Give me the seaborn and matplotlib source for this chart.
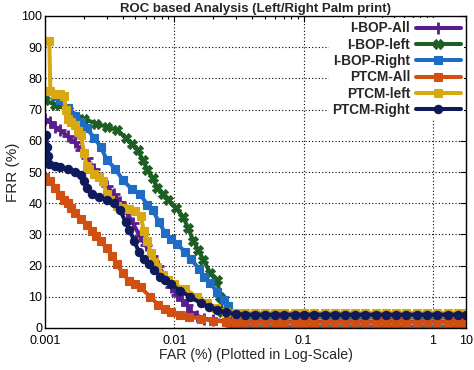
import matplotlib
matplotlib.use("Agg")
import matplotlib.pyplot as plt
import seaborn as sns
import pandas as pd
from matplotlib.ticker import LogLocator, NullFormatter

sns.set_style("white")
plt.rcParams['font.family'] = ['Liberation Sans', 'DejaVu Sans']

TITLE = "ROC based Analysis (Left/Right Palm print)"
XLABEL = "FAR (%) (Plotted in Log-Scale)"
YLABEL = "FRR (%)"
XTICKS = [0.001, 0.01, 0.1, 1, 1.8]
XTICK_LABELS = ["0.001", "0.01", "0.1", "1", "10"]
YTICKS = [0, 10, 20, 30, 40, 50, 60, 70, 80, 90, 100]

TAIL_FAR = [0.035, 0.042, 0.05, 0.06, 0.07, 0.085, 0.1, 0.12, 0.145, 0.175, 0.21,
            0.25, 0.3, 0.36, 0.43, 0.52, 0.62, 0.75, 0.9, 1.08, 1.3, 1.55, 1.8]

ibop_all_far = [0.001, 0.0011, 0.0012, 0.0013, 0.0015, 0.0017, 0.0019, 0.0021, 0.0024,
                0.0027, 0.003, 0.0034, 0.0038, 0.0043, 0.0048, 0.0054, 0.006, 0.0067,
                0.0075, 0.0085, 0.0095, 0.0105, 0.0115, 0.0125, 0.0135, 0.015, 0.017,
                0.02, 0.025, 0.03]
ibop_all_frr = [67, 66, 64.5, 63.5, 61.5, 59.5, 57, 54.5, 51, 48, 45.5, 43, 40.5, 37,
                33.5, 29.5, 26.5, 23, 20, 16.5, 13, 10.5, 9, 7.5, 5, 4, 3, 2.5, 2.2, 2.0]
ibop_all_tail = [2.0, 2.0, 2.0, 2.0, 2.0, 2.0, 2.0, 2.0, 2.0, 2.0, 2.0, 2.0,
                 2.0, 2.0, 2.0, 2.0, 2.0, 2.0, 2.0, 2.0, 2.0, 2.0, 2.0]

ibop_left_far = [0.001, 0.0012, 0.0015, 0.002, 0.0025, 0.003, 0.0036, 0.0042, 0.0047,
                 0.0052, 0.0057, 0.0062, 0.0068, 0.0074, 0.0082, 0.009, 0.0103, 0.0117,
                 0.0128, 0.014, 0.0153, 0.0168, 0.019, 0.0215, 0.0225, 0.0235, 0.027, 0.03]
ibop_left_frr = [73, 71.5, 70, 67, 65.5, 64.5, 63.5, 61, 59, 57, 54, 50.6, 48, 45, 43,
                 41, 38.5, 35.6, 32, 28, 25, 21.8, 17.6, 15.4, 10, 5, 4.2, 4.0]
ibop_left_tail = [4.0, 4.0, 4.0, 4.0, 4.0, 4.0, 4.0, 4.0, 4.0, 4.0, 4.0, 4.0,
                  4.0, 4.0, 4.0, 4.0, 4.0, 4.0, 4.0, 4.0, 4.0, 4.0, 4.0]

ibop_right_far = [0.001, 0.0012, 0.0013, 0.0015, 0.0017, 0.0019, 0.0021, 0.0024, 0.0027,
                  0.003, 0.0035, 0.004, 0.0047, 0.0054, 0.0062, 0.0068, 0.0076, 0.0085,
                  0.0095, 0.0105, 0.012, 0.0135, 0.0155, 0.017, 0.019, 0.0215, 0.024,
                  0.026, 0.027, 0.028, 0.031]
ibop_right_frr = [76, 74.5, 73, 70.5, 68, 66, 64, 61, 58, 54, 51, 47.4, 44.5, 43, 39.5,
                  37.8, 34, 30.4, 28.5, 27, 24.5, 22, 19, 16.5, 14.4, 11.5, 9, 7, 2,
                  0.5, 0.4]
ibop_right_tail = [0.4, 0.4, 0.4, 0.4, 0.4, 0.4, 0.4, 0.4, 0.4, 0.4, 0.4, 0.4,
                   0.4, 0.4, 0.4, 0.4, 0.4, 0.4, 0.4, 0.4, 0.4, 0.4, 0.4]

ptcm_all_far = [0.001, 0.0011, 0.0012, 0.0013, 0.0014, 0.0015, 0.0016, 0.0017, 0.0019,
                0.0021, 0.0023, 0.0025, 0.0027, 0.003, 0.0033, 0.0036, 0.004, 0.0045,
                0.005, 0.0055, 0.0065, 0.0075, 0.0085, 0.0095, 0.011, 0.013, 0.016,
                0.02, 0.025, 0.03]
ptcm_all_frr = [48.5, 47, 45, 42.5, 41, 40, 38.5, 37, 35, 33, 31, 29.5, 28, 25.5, 23,
                20.5, 17.5, 15, 14, 13, 10, 7.5, 6, 5, 4.2, 3.6, 3.0, 2.4, 2.0, 1.8]
ptcm_all_tail = [1.8, 1.8, 1.8, 1.8, 1.8, 1.8, 1.8, 1.8, 1.8, 1.8, 1.8, 1.8,
                 1.8, 1.8, 1.8, 1.8, 1.8, 1.8, 1.8, 1.8, 1.8, 1.8, 1.8]

ptcm_left_far = [0.001, 0.00104, 0.00108, 0.0011, 0.0012, 0.0013, 0.0014, 0.00145,
                 0.0015, 0.0016, 0.0017, 0.0018, 0.0019, 0.002, 0.0021, 0.0022, 0.0024,
                 0.0026, 0.0028, 0.003, 0.0032, 0.0036, 0.004, 0.0045, 0.005, 0.0055,
                 0.0058, 0.0062, 0.0066, 0.007, 0.0074, 0.0082, 0.009, 0.01, 0.012,
                 0.015, 0.018, 0.021, 0.025, 0.03]
ptcm_left_frr = [92, 92, 92, 76, 75, 75, 74.5, 70, 67, 66, 65, 63, 62, 56, 52, 51, 49.5,
                 48.5, 47, 43, 41, 39, 38.5, 38, 37.5, 36, 31, 28, 24, 21, 19.5, 17,
                 15.5, 14, 12.5, 10, 8, 6.5, 5, 4.8]
ptcm_left_tail = [4.8, 4.8, 4.8, 4.8, 4.8, 4.8, 4.8, 4.8, 4.8, 4.8, 4.8, 4.8,
                  4.8, 4.8, 4.8, 4.8, 4.8, 4.8, 4.8, 4.8, 4.8, 4.8, 4.8]

ptcm_right_far = [0.001, 0.00102, 0.00104, 0.00106, 0.00108, 0.0012, 0.0013, 0.0015,
                  0.0017, 0.0019, 0.002, 0.0021, 0.0023, 0.0026, 0.003, 0.0034, 0.0038,
                  0.0042, 0.0045, 0.0049, 0.0053, 0.0058, 0.0064, 0.007, 0.0078, 0.0085,
                  0.0095, 0.011, 0.0133, 0.016, 0.0185, 0.0215, 0.025, 0.03]
ptcm_right_frr = [62, 62, 58, 55, 52.5, 52, 51.5, 51, 50, 49, 47, 45, 43, 42, 41, 40,
                  37.8, 34, 31.4, 28, 24.5, 22, 20.5, 18.5, 16.5, 15.5, 14, 12, 10,
                  8, 6.8, 5.8, 5, 4.5]
ptcm_right_tail = [4.3, 4.3, 4.3, 4.3, 4.3, 4.3, 4.3, 4.3, 4.3, 4.3, 4.3, 4.3,
                   4.3, 4.3, 4.3, 4.3, 4.3, 4.3, 4.3, 4.3, 4.3, 4.3, 4.3]

NAMES = ["I-BOP-All", "I-BOP-left", "I-BOP-Right", "PTCM-All", "PTCM-left", "PTCM-Right"]
FARS = [ibop_all_far, ibop_left_far, ibop_right_far, ptcm_all_far, ptcm_left_far, ptcm_right_far]
FRRS = [ibop_all_frr, ibop_left_frr, ibop_right_frr, ptcm_all_frr, ptcm_left_frr, ptcm_right_frr]
TAILS = [ibop_all_tail, ibop_left_tail, ibop_right_tail, ptcm_all_tail, ptcm_left_tail, ptcm_right_tail]

COLORS = ["#5a1e8c", "#1d5e22", "#1f6cc4", "#d24f12", "#d8a812", "#0e1a5c"]
MARKERS = ["+", "X", "s", "s", "s", "o"]
MSIZES = [8, 6.5, 5.5, 5.5, 5.5, 6]

fig = plt.figure(figsize=(4.74, 3.70), dpi=100)
ax = fig.add_axes([45 / 474, 1 - 328 / 370, (466 - 45) / 474, (328 - 16) / 370])

for name, far, frr, tail, c, m, ms in zip(NAMES, FARS, FRRS, TAILS, COLORS, MARKERS, MSIZES):
    df = pd.DataFrame({"FAR": far + TAIL_FAR, "FRR": frr + tail})
    sns.lineplot(data=df, x="FAR", y="FRR", ax=ax, color=c, marker=m, markersize=ms,
                 markeredgecolor=c, markeredgewidth=2.0 if m == "+" else 0.8,
                 linewidth=2.9, label=name, sort=False, estimator=None)

ax.set_xscale("log")
ax.set_xlim(0.001, 1.8)
ax.set_ylim(0, 100)
ax.set_xticks(XTICKS)
ax.set_xticklabels(XTICK_LABELS)
ax.xaxis.set_minor_locator(LogLocator(base=10, subs=[2, 3, 4, 5, 6, 7, 8, 9]))
ax.xaxis.set_minor_formatter(NullFormatter())
ax.set_yticks(YTICKS)

ax.grid(True, which="major", linestyle=(0, (1, 2)), color="black", linewidth=0.8)
ax.tick_params(which="both", direction="in", top=True, right=True, labelsize=9,
               colors="black")
ax.tick_params(axis="y", pad=2)
ax.tick_params(axis="x", pad=5)
ax.tick_params(which="major", length=4, width=0.8)
ax.tick_params(which="minor", length=2.5, width=0.8)
for s in ax.spines.values():
    s.set_color("black")
    s.set_linewidth(1.0)

ax.set_xlabel(XLABEL, fontsize=10.2, labelpad=1)
ax.set_ylabel(YLABEL, fontsize=11, labelpad=1)
ax.set_title(TITLE, fontsize=9.5, fontweight="bold", pad=3)

handles, labels = ax.get_legend_handles_labels()
leg = ax.legend(handles, labels, loc="upper right", bbox_to_anchor=(1.0, 1.0),
                markerfirst=False, frameon=True, facecolor="white", edgecolor="none",
                framealpha=1.0, fancybox=False, prop={"weight": "bold", "size": 9.8},
                handlelength=3.3, labelspacing=0.17, handletextpad=0.4,
                borderpad=0.25, borderaxespad=0.15)
for t in leg.get_texts():
    t.set_ha("right")
leg.set_zorder(5)

fig.savefig("out.png", dpi=100)
